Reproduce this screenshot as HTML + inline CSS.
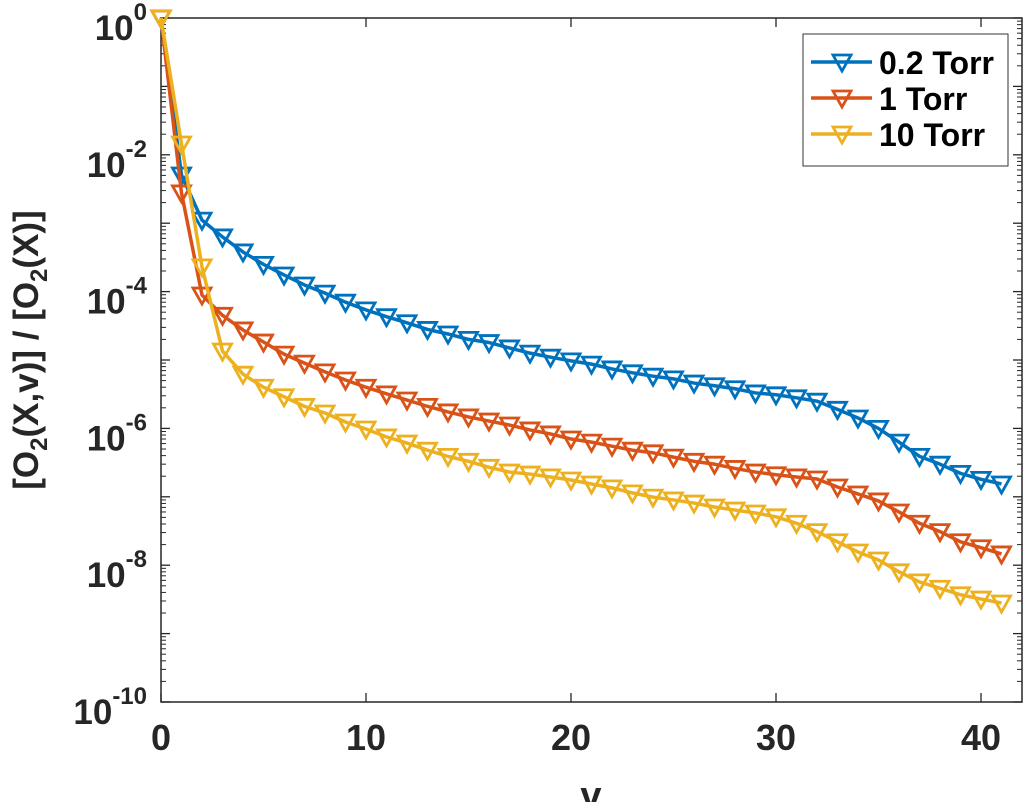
<!DOCTYPE html>
<html><head><meta charset="utf-8"><style>
html,body{margin:0;padding:0;background:#fff;}
svg{display:block;font-family:"Liberation Sans",Arial,sans-serif;font-weight:bold;}
</style></head><body>
<svg id="chart" width="1025" height="802" xmlns="http://www.w3.org/2000/svg">
<g id="axes"></g>
<g id="series"></g>
<text x="591" y="808" font-size="38" text-anchor="middle" fill="#262626">v</text>
<text transform="translate(38,350) rotate(-90)" font-size="35" text-anchor="middle" fill="#262626">[O<tspan font-size="24" dy="9">2</tspan><tspan dy="-9">(X,v)] / [O</tspan><tspan font-size="24" dy="9">2</tspan><tspan dy="-9">(X)]</tspan></text>
<g>
<rect x="803" y="34" width="205" height="132" fill="#fff" stroke="#333" stroke-width="1"/>
<g id="legend-entries"></g>
</g>
</svg>
<script>
const categories = [0,1,2,3,4,5,6,7,8,9,10,11,12,13,14,15,16,17,18,19,20,21,22,23,24,25,26,27,28,29,30,31,32,33,34,35,36,37,38,39,40,41];
const seriesNames = ["0.2 Torr","1 Torr","10 Torr"];
const torr02 = [1,5.07e-3,1.11e-3,6.3e-4,3.8e-4,2.5e-4,1.75e-4,1.25e-4,9.5e-5,7.0e-5,5.4e-5,4.3e-5,3.5e-5,2.8e-5,2.4e-5,2.0e-5,1.8e-5,1.5e-5,1.26e-5,1.1e-5,9.7e-6,8.7e-6,7.4e-6,6.5e-6,5.8e-6,5.3e-6,4.6e-6,4.2e-6,3.8e-6,3.3e-6,3.1e-6,2.8e-6,2.5e-6,1.9e-6,1.42e-6,1.0e-6,6.3e-7,3.9e-7,3.0e-7,2.2e-7,1.8e-7,1.54e-7];
const torr1 = [1,2.77e-3,8.9e-5,4.5e-5,2.75e-5,1.83e-5,1.22e-5,9.0e-6,6.7e-6,5.1e-6,4.0e-6,3.2e-6,2.6e-6,2.1e-6,1.74e-6,1.47e-6,1.28e-6,1.12e-6,9.5e-7,8.3e-7,7.0e-7,6.3e-7,5.5e-7,4.8e-7,4.4e-7,3.8e-7,3.3e-7,3.0e-7,2.6e-7,2.3e-7,2.1e-7,1.95e-7,1.82e-7,1.39e-7,1.1e-7,8.7e-8,6.0e-8,4.1e-8,3.1e-8,2.2e-8,1.8e-8,1.46e-8];
const torr10 = [1,1.44e-2,2.3e-4,1.35e-5,6.2e-6,4.0e-6,2.9e-6,2.1e-6,1.68e-6,1.24e-6,9.8e-7,7.5e-7,6.1e-7,4.8e-7,3.9e-7,3.3e-7,2.7e-7,2.3e-7,2.15e-7,1.95e-7,1.76e-7,1.54e-7,1.35e-7,1.14e-7,9.9e-8,9.0e-8,8.1e-8,7.1e-8,6.4e-8,5.8e-8,5.1e-8,4.1e-8,3.1e-8,2.2e-8,1.56e-8,1.19e-8,8.0e-9,5.7e-9,4.6e-9,3.7e-9,3.2e-9,2.8e-9];
const xTicks = [0,10,20,30,40];
const yTickExps = [0,-2,-4,-6,-8,-10];

const NS="http://www.w3.org/2000/svg";
const L=161,R=1022,T=18,B=702,XMAX=42,LMIN=-10,LMAX=0;
const xs=v=>L+(v/XMAX)*(R-L);
const ys=val=>T+(LMAX-Math.log10(val))/(LMAX-LMIN)*(B-T);
function mk(tag,attrs,parent){const e=document.createElementNS(NS,tag);for(const k in attrs)e.setAttribute(k,attrs[k]);parent.appendChild(e);return e;}
const axes=document.getElementById('axes');
const frame=mk('rect',{x:L,y:T,width:R-L,height:B-T,fill:'none',stroke:'#262626','stroke-width':1.5},axes);


xTicks.forEach(t=>{
  const x=xs(t);
  mk('line',{x1:x,y1:B,x2:x,y2:B-9,stroke:'#262626','stroke-width':1.3},axes);
  mk('line',{x1:x,y1:T,x2:x,y2:T+9,stroke:'#262626','stroke-width':1.3},axes);
  const tx=mk('text',{x:x,y:750,'font-size':36,'text-anchor':'middle',fill:'#262626'},axes);
  tx.textContent=t;
  
  
});
for(let e=LMIN;e<=LMAX;e++){
  const y=ys(Math.pow(10,e));
  mk('line',{x1:L,y1:y,x2:L+9,y2:y,stroke:'#262626','stroke-width':1.3},axes);
  mk('line',{x1:R,y1:y,x2:R-9,y2:y,stroke:'#262626','stroke-width':1.3},axes);
  if(e<LMAX){for(let m=2;m<=9;m++){const yy=ys(m*Math.pow(10,e));
    mk('line',{x1:L,y1:yy,x2:L+5,y2:yy,stroke:'#262626','stroke-width':1},axes);
    mk('line',{x1:R,y1:yy,x2:R-5,y2:yy,stroke:'#262626','stroke-width':1},axes);}}
}
yTickExps.forEach(e=>{
  const y=ys(Math.pow(10,e));
  const tx=mk('text',{x:147,y:y+22,'font-size':35,'text-anchor':'end',fill:'#262626'},axes);
  
  
  const a=mk('tspan',{},tx);a.textContent='10';
  const b=mk('tspan',{dy:-20,'font-size':24},tx);b.textContent=String(e);
});
const colors=['#0072BD','#D95319','#EDB120'];
const data=[torr02,torr1,torr10];
const sg=document.getElementById('series');
function tri(g,x,y,c){
  return mk('path',{d:`M${x-9},${y-7}L${x+9},${y-7}L${x},${y+9}Z`,fill:'none',stroke:c,'stroke-width':2.8,'stroke-linejoin':'miter'},g);
}
data.forEach((arr,i)=>{
  const g=mk('g',{},sg);
  
  
  const pts=arr.map((v,k)=>xs(categories[k])+','+ys(v)).join(' ');
  mk('polyline',{points:pts,fill:'none',stroke:colors[i],'stroke-width':3.5,'stroke-linejoin':'round'},g);
  arr.forEach((v,k)=>{const m=tri(g,xs(categories[k]),ys(v),colors[i]);
    
    });
});
const lg=document.getElementById('legend-entries');
seriesNames.forEach((n,i)=>{
  const y=62+i*36;
  const g=mk('g',{},lg);
  
  
  mk('line',{x1:811,y1:y,x2:872,y2:y,stroke:colors[i],'stroke-width':3.5},g);
  tri(g,842,y,colors[i]);
  const t=mk('text',{x:879,y:y+12,'font-size':32,fill:'#000'},g);
  t.textContent=n;
});
</script>
</body></html>
